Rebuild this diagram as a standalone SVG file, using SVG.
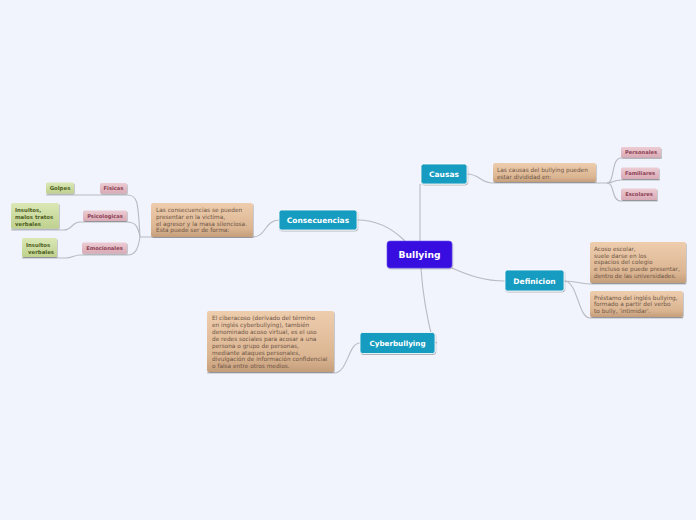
<svg xmlns="http://www.w3.org/2000/svg" width="696" height="520" viewBox="0 0 696 520">
<defs>
<linearGradient id="tan" x1="0" y1="0" x2="0" y2="1">
<stop offset="0" stop-color="#eecdad"/><stop offset="0.75" stop-color="#dbb592"/><stop offset="1" stop-color="#c49d7b"/>
</linearGradient>
<linearGradient id="pink" x1="0" y1="0" x2="0" y2="1">
<stop offset="0" stop-color="#ecccd3"/><stop offset="1" stop-color="#d9aab5"/>
</linearGradient>
<linearGradient id="green" x1="0" y1="0" x2="0" y2="1">
<stop offset="0" stop-color="#dbe8b6"/><stop offset="1" stop-color="#bfd18e"/>
</linearGradient>
<filter id="sh" x="-20%" y="-20%" width="140%" height="150%">
<feDropShadow dx="0.6" dy="1" stdDeviation="0.7" flood-color="#000" flood-opacity="0.3"/>
</filter>
<style>
.c{fill:none;stroke:#b9b9c2;stroke-width:1.1}
.main{fill:#3710df;stroke:#6a55ee;stroke-width:0.6}
.teal{fill:#169cc0;stroke:#ffffff;stroke-width:0.8}
.tan{fill:url(#tan)}
.pk{fill:url(#pink)}
.gr{fill:url(#green)}
.tl{font-family:"DejaVu Sans",Verdana,sans-serif;font-weight:bold;fill:#fff;text-anchor:middle}
.bt{font-family:"DejaVu Sans",Verdana,sans-serif;font-size:5.8px;fill:#6e5545}
.pt{font-family:"DejaVu Sans",Verdana,sans-serif;font-size:5.2px;font-weight:bold;fill:#8d4154;text-anchor:middle}
.gt{font-family:"DejaVu Sans",Verdana,sans-serif;font-size:5.4px;font-weight:bold;fill:#4f5f24}
</style>
</defs>
<rect width="696" height="520" fill="#f1f4fd"/>
<g id="connectors">
<path class="c" d="M420,241 L420,184"/>
<path class="c" d="M405,241 C392,228 375,220 357,220"/>
<path class="c" d="M452,268 C470,276 485,281 505,281"/>
<path class="c" d="M421,268 C423,300 428,322 433,341 L437,343"/>
<path class="c" d="M467,174 C480,174 480,183 493,183 H607"/>
<path class="c" d="M607,183 C615,183 611,158 621,158 H662"/>
<path class="c" d="M607,183 C615,183 612,180 621,180 H660"/>
<path class="c" d="M607,183 C615,183 611,201 621,201 H658"/>
<path class="c" d="M564,281 C578,281 578,284 590,284 H686"/>
<path class="c" d="M564,281 C578,281 578,318 590,318 H683"/>
<path class="c" d="M279,220 C265,220 266,237 253,237 H140"/>
<path class="c" d="M140,237 C138,202 138,195 127,195 H46"/>
<path class="c" d="M140,237 C138,226 135,222 127,222 H80 C72,222 72,230 64,230 H11"/>
<path class="c" d="M140,237 C138,250 135,255 127,255 H80 C74,255 72,258 66,258 H22"/>
<path class="c" d="M360,343 C348,343 348,373 334,373 H207"/>
</g>
<g id="bullying">
<rect class="main" x="387" y="241" width="65" height="27" rx="3" filter="url(#sh)"/>
<text class="tl" x="419.5" y="258" font-size="9.2">Bullying</text>
</g>
<g id="causas">
<rect class="teal" x="421" y="164" width="46" height="20" rx="2.5" filter="url(#sh)"/>
<text class="tl" x="444" y="177" font-size="7.5">Causas</text>
</g>
<g id="causas-text">
<rect class="tan" x="493" y="163" width="103" height="19" rx="2" filter="url(#sh)"/>
<text class="bt"><tspan x="497" y="172">Las causas del bullying pueden</tspan><tspan x="497" y="179">estar divididad en:</tspan></text>
</g>
<g id="personales">
<rect class="pk" x="621" y="147" width="40" height="10.5" rx="1.5" filter="url(#sh)"/>
<text class="pt" x="641" y="154.3">Personales</text>
</g>
<g id="familiares">
<rect class="pk" x="621" y="167.5" width="38" height="11.5" rx="1.5" filter="url(#sh)"/>
<text class="pt" x="640" y="175.3">Familiares</text>
</g>
<g id="escolares">
<rect class="pk" x="621" y="188.5" width="36" height="11.5" rx="1.5" filter="url(#sh)"/>
<text class="pt" x="639" y="196.3">Escolares</text>
</g>
<g id="definicion">
<rect class="teal" x="505" y="270" width="59" height="21" rx="2.5" filter="url(#sh)"/>
<text class="tl" x="534.5" y="283.5" font-size="7.5">Definicion</text>
</g>
<g id="definicion-text1">
<rect class="tan" x="590" y="242" width="96" height="41" rx="2" filter="url(#sh)"/>
<text class="bt"><tspan x="594" y="251">Acoso escolar,</tspan><tspan x="594" y="257.5">suele darse en los</tspan><tspan x="594" y="264">espacios del colegio</tspan><tspan x="594" y="270.5">e incluso se puede presentar,</tspan><tspan x="594" y="277.5">dentro de las universidades.</tspan></text>
</g>
<g id="definicion-text2">
<rect class="tan" x="590" y="291" width="93" height="26" rx="2" filter="url(#sh)"/>
<text class="bt"><tspan x="594" y="299.5">Préstamo del inglés bullying,</tspan><tspan x="594" y="306.2">formado a partir del verbo</tspan><tspan x="594" y="313.4">to bully, 'intimidar'.</tspan></text>
</g>
<g id="consecuencias">
<rect class="teal" x="279" y="210" width="78" height="20" rx="2.5" filter="url(#sh)"/>
<text class="tl" x="318" y="223" font-size="7.5">Consecuencias</text>
</g>
<g id="consecuencias-text">
<rect class="tan" x="151" y="203" width="102" height="34" rx="2" filter="url(#sh)"/>
<text class="bt"><tspan x="156" y="212">Las consecuencias se pueden</tspan><tspan x="156" y="218.7">presentar en la victima,</tspan><tspan x="156" y="225.5">el agresor y la masa silenciosa.</tspan><tspan x="156" y="232.2">Esta puede ser de forma:</tspan></text>
</g>
<g id="fisicas">
<rect class="pk" x="100" y="183" width="27" height="10.5" rx="1.5" filter="url(#sh)"/>
<text class="pt" x="113.5" y="190.3">Fisicas</text>
</g>
<g id="psicologicas">
<rect class="pk" x="83" y="210.5" width="44" height="10.5" rx="1.5" filter="url(#sh)"/>
<text class="pt" x="105" y="217.8">Psicologicas</text>
</g>
<g id="emocionales">
<rect class="pk" x="82" y="242.5" width="45" height="11" rx="1.5" filter="url(#sh)"/>
<text class="pt" x="104.5" y="250.2">Emocionales</text>
</g>
<g id="golpes">
<rect class="gr" x="46" y="182.5" width="28" height="11" rx="1.5" filter="url(#sh)"/>
<text class="gt" x="60" y="190.2" text-anchor="middle">Golpes</text>
</g>
<g id="insultos-malos-tratos">
<rect class="gr" x="11" y="203" width="48" height="25.5" rx="1.5" filter="url(#sh)"/>
<text class="gt"><tspan x="15" y="212">Insultos,</tspan><tspan x="15" y="218.7">malos tratos</tspan><tspan x="15" y="225.8">verbales</tspan></text>
</g>
<g id="insultos-verbales">
<rect class="gr" x="22" y="238" width="35" height="19" rx="1.5" filter="url(#sh)"/>
<text class="gt"><tspan x="26" y="247">Insultos</tspan><tspan x="28" y="254.3">verbales</tspan></text>
</g>
<g id="cyberbullying">
<rect class="teal" x="360" y="332.5" width="75" height="21" rx="2.5" filter="url(#sh)"/>
<text class="tl" x="397.5" y="345.8" font-size="7.2">Cyberbullying</text>
</g>
<g id="cyberbullying-text">
<rect class="tan" x="207" y="311" width="127" height="61" rx="2" filter="url(#sh)"/>
<text class="bt"><tspan x="212" y="320.3">El ciberacoso (derivado del término</tspan><tspan x="212" y="327">en inglés cyberbullying), también</tspan><tspan x="212" y="334">denominado acoso virtual, es el uso</tspan><tspan x="212" y="340.7">de redes sociales para acosar a una</tspan><tspan x="212" y="347.7">persona o grupo de personas,</tspan><tspan x="212" y="354.7">mediante ataques personales,</tspan><tspan x="212" y="361.3">divulgación de información confidencial</tspan><tspan x="212" y="368.3">o falsa entre otros medios.</tspan></text>
</g>
</svg>
